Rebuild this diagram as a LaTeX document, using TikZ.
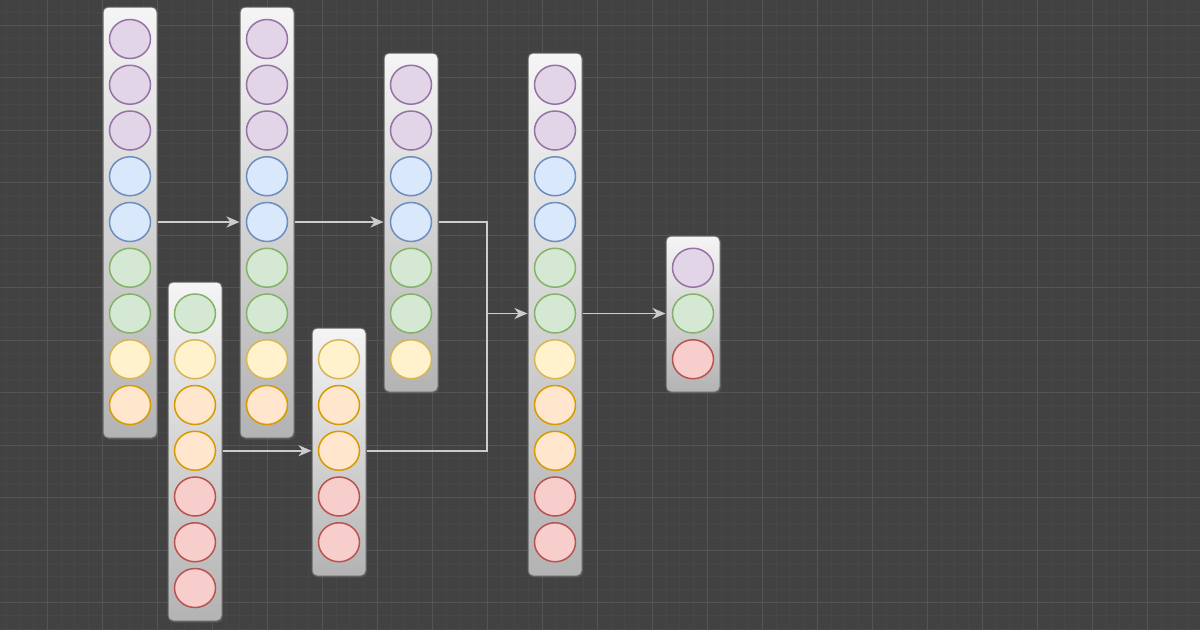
\documentclass[tikz,border=0pt]{standalone}
\usetikzlibrary{arrows.meta,shadows,shapes.geometric}
\definecolor{bg}{HTML}{424242}
\definecolor{gminor}{HTML}{474747}
\definecolor{gmajor}{HTML}{545454}
\definecolor{boxtop}{HTML}{F5F5F5}
\definecolor{boxbot}{HTML}{B3B3B3}
\definecolor{boxline}{HTML}{666666}
\definecolor{wire}{HTML}{CCCCCC}
\definecolor{puF}{HTML}{E1D5E7}\definecolor{puD}{HTML}{9673A6}
\definecolor{blF}{HTML}{DAE8FC}\definecolor{blD}{HTML}{6C8EBF}
\definecolor{grF}{HTML}{D5E8D4}\definecolor{grD}{HTML}{82B366}
\definecolor{yeF}{HTML}{FFF2CC}\definecolor{yeD}{HTML}{D6B656}
\definecolor{orF}{HTML}{FFE6CC}\definecolor{orD}{HTML}{D79B00}
\definecolor{rdF}{HTML}{F8CECC}\definecolor{rdD}{HTML}{B85450}
\begin{document}
\begin{tikzpicture}[x=1pt,y=-1pt,
  colbox/.style={draw=boxline, line width=1pt, rounded corners=5pt,
    top color=boxtop, bottom color=boxbot, minimum width=54pt, inner sep=0pt,
    drop shadow={opacity=0.25, shadow xshift=1pt, shadow yshift=-1.5pt}},
  cell/.style={ellipse, minimum width=41pt, minimum height=39pt, inner sep=0pt, line width=1.5pt},
  pu/.style={cell, fill=puF, draw=puD},
  bl/.style={cell, fill=blF, draw=blD},
  gr/.style={cell, fill=grF, draw=grD},
  ye/.style={cell, fill=yeF, draw=yeD},
  or/.style={cell, fill=orF, draw=orD},
  rd/.style={cell, fill=rdF, draw=rdD},
  wireline/.style={draw=wire, line width=1.6pt},
  arr/.style={wireline, -{Stealth[length=13pt,width=11pt,inset=4pt]}}]
\useasboundingbox (0,0) rectangle (1200,630);
\fill[bg] (0,0) rectangle (1200,630);
% grid
\foreach \i in {0,...,87} \draw[gminor, line width=0.5pt] ({5.75+13.75*\i},0) -- ({5.75+13.75*\i},630);
\foreach \j in {0,...,47} \draw[gminor, line width=0.5pt] (0,{11.875+13.125*\j}) -- (1200,{11.875+13.125*\j});
\foreach \i in {0,...,21} \draw[gmajor, line width=0.9pt] ({-8+55*\i},0) -- ({-8+55*\i},630);
\foreach \j in {0,...,11} \draw[gmajor, line width=0.9pt] (0,{25+52.5*\j}) -- (1200,{25+52.5*\j});
% columns
\node[colbox, minimum height=431pt] (A) at (130,222.5) {};
\node[colbox, minimum height=339pt] (B) at (195,451.5) {};
\node[colbox, minimum height=431pt] (C) at (267,222.5) {};
\node[colbox, minimum height=248pt] (D) at (339,452) {};
\node[colbox, minimum height=339pt] (E) at (411,222.5) {};
\node[colbox, minimum height=523pt] (F) at (555,314.5) {};
\node[colbox, minimum height=156pt] (G) at (693,314) {};
% cells
\foreach \c [count=\i] in {pu,pu,pu,bl,bl,gr,gr,ye,or}
  \node[\c] (a\i) at (130,{39+45.75*(\i-1)}) {};
\foreach \c [count=\i] in {gr,ye,or,or,rd,rd,rd}
  \node[\c] (b\i) at (195,{313.5+45.75*(\i-1)}) {};
\foreach \c [count=\i] in {pu,pu,pu,bl,bl,gr,gr,ye,or}
  \node[\c] (c\i) at (267,{39+45.75*(\i-1)}) {};
\foreach \c [count=\i] in {ye,or,or,rd,rd}
  \node[\c] (d\i) at (339,{359.25+45.75*(\i-1)}) {};
\foreach \c [count=\i] in {pu,pu,bl,bl,gr,gr,ye}
  \node[\c] (e\i) at (411,{84.75+45.75*(\i-1)}) {};
\foreach \c [count=\i] in {pu,pu,bl,bl,gr,gr,ye,or,or,rd,rd}
  \node[\c] (f\i) at (555,{84.75+45.75*(\i-1)}) {};
\foreach \c [count=\i] in {pu,gr,rd}
  \node[\c] (g\i) at (693,{267.75+45.75*(\i-1)}) {};
% connectors
\coordinate (j) at (487,313.5);
\draw[arr] (A.east |- a5) -- (C.west |- c5);
\draw[arr] (B.east |- b4) -- (D.west |- d3);
\draw[arr] (C.east |- c5) -- (E.west |- e4);
\draw[wireline] (E.east |- e4) -| (j);
\draw[wireline] (D.east |- d3) -| (j);
\draw[arr] (j) -- (F.west |- f6);
\draw[arr] (F.east |- f6) -- (G.west |- g2);
\end{tikzpicture}
\end{document}
